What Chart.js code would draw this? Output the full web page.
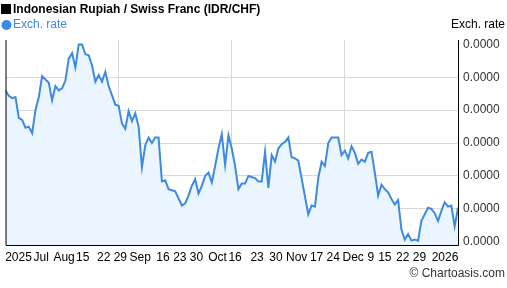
<!DOCTYPE html>
<html lang="en">
<head>
    <meta charset="UTF-8">
    <title>Indonesian Rupiah / Swiss Franc (IDR/CHF)</title>
    <style>
        html, body {
            margin: 0;
            padding: 0;
            background: #ffffff;
        }

        .chart-box {
            position: relative;
            width: 507px;
            height: 288px;
        }
    </style>
</head>
<body>
    <div class="chart-box">
        <canvas id="rateChart"></canvas>
    </div>

    <script src="https://cdn.jsdelivr.net/npm/chart.js"></script>
    <script>
        const chartTitle = 'Indonesian Rupiah / Swiss Franc (IDR/CHF)';
        const seriesName = 'Exch. rate';

        // trading day number (0 = first day shown) and the rate on that day
        const tradingDay = [
            0, 1, 2, 3, 4, 5, 6, 7, 8, 9,
            10, 11, 13, 14, 15, 16, 17, 18, 19, 20,
            21, 22, 23, 24, 25, 26, 27, 28, 29, 30,
            31, 33, 34, 35, 36, 37, 38, 39, 40, 41,
            42, 43, 44, 45, 46, 47, 48, 49, 50, 51,
            53, 54, 55, 56, 57, 58, 59, 60, 61, 62,
            63, 64, 65, 66, 67, 68, 69, 70, 71, 72,
            73, 75, 76, 77, 78, 79, 80, 81, 82, 83,
            84, 85, 86, 87, 88, 91, 92, 93, 94, 95,
            96, 97, 98, 100, 101, 102, 103, 104, 105, 106,
            107, 108, 109, 110, 111, 112, 113, 114, 115, 116,
            117, 118, 119, 120, 121, 122, 123, 124, 125, 127,
            128, 129, 130, 131, 132, 133, 134, 135, 136
        ];
        const rates = [
            0.00004888, 0.00004883, 0.00004881, 0.00004882, 0.00004863, 0.00004861, 0.00004854, 0.00004855, 0.00004849, 0.00004870,
            0.00004882, 0.00004901, 0.00004895, 0.00004879, 0.00004892, 0.00004888, 0.00004890, 0.00004897, 0.00004917, 0.00004922,
            0.00004909, 0.00004930, 0.00004930, 0.00004921, 0.00004920, 0.00004911, 0.00004896, 0.00004902, 0.00004896, 0.00004905,
            0.00004892, 0.00004875, 0.00004874, 0.00004858, 0.00004853, 0.00004869, 0.00004860, 0.00004867, 0.00004855, 0.00004818,
            0.00004838, 0.00004845, 0.00004840, 0.00004845, 0.00004845, 0.00004805, 0.00004806, 0.00004798, 0.00004797, 0.00004796,
            0.00004783, 0.00004785, 0.00004792, 0.00004801, 0.00004807, 0.00004794, 0.00004801, 0.00004810, 0.00004813, 0.00004804,
            0.00004819, 0.00004835, 0.00004848, 0.00004820, 0.00004847, 0.00004835, 0.00004819, 0.00004798, 0.00004803, 0.00004803,
            0.00004810, 0.00004808, 0.00004805, 0.00004805, 0.00004832, 0.00004799, 0.00004829, 0.00004823, 0.00004835, 0.00004839,
            0.00004841, 0.00004845, 0.00004827, 0.00004826, 0.00004824, 0.00004775, 0.00004783, 0.00004782, 0.00004808, 0.00004823,
            0.00004819, 0.00004840, 0.00004845, 0.00004845, 0.00004829, 0.00004833, 0.00004826, 0.00004837, 0.00004831, 0.00004821,
            0.00004825, 0.00004823, 0.00004831, 0.00004832, 0.00004813, 0.00004792, 0.00004802, 0.00004798, 0.00004795, 0.00004789,
            0.00004784, 0.00004788, 0.00004761, 0.00004752, 0.00004757, 0.00004751, 0.00004752, 0.00004751, 0.00004769, 0.00004781,
            0.00004780, 0.00004776, 0.00004769, 0.00004778, 0.00004786, 0.00004782, 0.00004783, 0.00004764, 0.00004781
        ];

        // where the date labels sit, in trading days
        const tickDays = [3.9, 10.7, 17.6, 23.2, 29.5, 34.5, 40.5, 47.3, 52.4, 57.4, 63.7, 69.0,
                          75.6, 81.3, 87.5, 93.5, 98.5, 104.5, 109.8, 114.0, 119.4, 124.4, 132.1];
        const tickLabels = ['2025', 'Jul', 'Aug', '15', '22', '29', 'Sep', '16', '23', '30', 'Oct', '16',
                            '23', '30', 'Nov', '17', '24', 'Dec', '9', '15', '22', '29', '2026'];
        const rateTicks = [0.0000475, 0.0000478, 0.0000481, 0.0000484, 0.0000487, 0.0000490, 0.0000493];

        const lineBlue = '#3d8be0';
        const fontFamily = 'Arial, "Liberation Sans", sans-serif';

        // no grid line on the outermost rate ticks
        function isEdgeTick(value) {
            const lo = rateTicks[0], hi = rateTicks[rateTicks.length - 1];
            return Math.abs(value - lo) < 1e-9 || Math.abs(value - hi) < 1e-9;
        }

        // title, legend, frame and watermark
        const framePlugin = {
            id: 'frame',
            afterDraw(chart) {
                const { ctx, chartArea: a } = chart;
                ctx.save();

                ctx.strokeStyle = '#000';
                ctx.lineWidth = 1;
                ctx.beginPath();
                ctx.moveTo(a.left + 0.5, a.top);
                ctx.lineTo(a.left + 0.5, a.bottom + 0.5);
                ctx.lineTo(a.right + 0.5, a.bottom + 0.5);
                ctx.lineTo(a.right + 0.5, a.top);
                ctx.stroke();

                ctx.fillStyle = '#000';
                ctx.fillRect(1, 4, 10, 10);
                ctx.font = 'bold 12px ' + fontFamily;
                ctx.textBaseline = 'middle';
                ctx.textAlign = 'left';
                ctx.fillText(chartTitle, 13, 9.5);

                ctx.fillStyle = lineBlue;
                ctx.beginPath();
                ctx.arc(6.5, 25, 5, 0, Math.PI * 2);
                ctx.fill();
                ctx.font = '12px ' + fontFamily;
                ctx.fillText(chart.data.datasets[0].label, 13, 25);

                ctx.fillStyle = '#000';
                ctx.textAlign = 'right';
                ctx.fillText(seriesName, 505, 25);

                ctx.fillStyle = '#333';
                ctx.fillText('\u00A9 Chartoasis.com', 505, 274);
                ctx.restore();
            }
        };

        document.addEventListener('DOMContentLoaded', () => {
            const ctx = document.getElementById('rateChart').getContext('2d');
            new Chart(ctx, {
                type: 'line',
                data: {
                    datasets: [{
                        label: seriesName,
                        data: tradingDay.map((d, i) => ({ x: d, y: rates[i] })),
                        borderColor: lineBlue,
                        borderWidth: 2,
                        backgroundColor: '#ebf5ff',
                        fill: 'start',
                        pointRadius: 0,
                        tension: 0
                    }]
                },
                options: {
                    responsive: true,
                    maintainAspectRatio: false,
                    animation: false,
                    layout: {
                        padding: { top: 40, left: 1, right: 0, bottom: 0 }
                    },
                    plugins: {
                        legend: { display: false },
                        title: { display: false },
                        tooltip: { enabled: false }
                    },
                    scales: {
                        x: {
                            type: 'linear',
                            min: 0,
                            max: 136,
                            afterFit: (scale) => { scale.height = 0; },
                            ticks: { display: false, stepSize: 34 },
                            border: { display: false },
                            grid: {
                                drawTicks: false,
                                color: (c) => (c.tick && (c.tick.value === 0 || c.tick.value === 136)) ? 'rgba(0,0,0,0)' : '#d9d9d9'
                            }
                        },
                        x2: {
                            type: 'linear',
                            position: 'bottom',
                            min: 0,
                            max: 136,
                            afterFit: (scale) => { scale.height = 43; },
                            afterBuildTicks: (scale) => { scale.ticks = tickDays.map(v => ({ value: v })); },
                            border: { display: false },
                            grid: { display: false, drawTicks: false },
                            ticks: {
                                autoSkip: false,
                                maxRotation: 0,
                                padding: 5,
                                color: '#000',
                                font: { family: fontFamily, size: 12 },
                                callback: (v, i) => tickLabels[i]
                            }
                        },
                        y: {
                            position: 'right',
                            min: 0.00004747,
                            max: 0.00004934,
                            afterFit: (scale) => { scale.width = 49; },
                            afterBuildTicks: (scale) => { scale.ticks = rateTicks.map(v => ({ value: v })); },
                            border: { display: false },
                            grid: {
                                drawTicks: false,
                                color: (c) => (c.tick && isEdgeTick(c.tick.value)) ? 'rgba(0,0,0,0)' : '#d9d9d9'
                            },
                            ticks: {
                                padding: 5,
                                color: '#333',
                                font: { family: fontFamily, size: 12 },
                                callback: (v) => Number(v).toFixed(4)
                            }
                        }
                    }
                },
                plugins: [framePlugin]
            });
        });
    </script>
</body>
</html>
